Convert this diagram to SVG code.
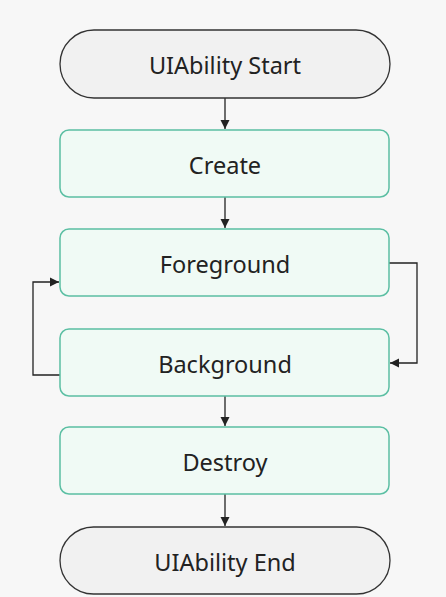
<svg xmlns="http://www.w3.org/2000/svg" width="446" height="597" viewBox="0 0 446 597">
<style>
.pill{fill:#f1f1f1;stroke:#333;stroke-width:1.3}
.box{fill:#f0faf5;stroke:#5bbfa3;stroke-width:1.5}
.t{font-family:"Noto Sans","Liberation Sans",sans-serif;font-size:23.5px;fill:#222;text-anchor:middle;dominant-baseline:central}
.c{fill:none;stroke:#222;stroke-width:1.3}
</style>
<defs>
<marker id="ah" markerWidth="10" markerHeight="10" refX="9" refY="5" orient="auto" markerUnits="userSpaceOnUse">
<path d="M0,0.5 L9,5 L0,9.5 Z" fill="#222"/>
</marker>
</defs>
<rect width="446" height="597" fill="#f7f7f7"/>
<g id="connectors">
<path class="c" d="M225,98 V129" marker-end="url(#ah)"/>
<path class="c" d="M225,197 V228" marker-end="url(#ah)"/>
<path class="c" d="M225,396 V426" marker-end="url(#ah)"/>
<path class="c" d="M225,494 V526" marker-end="url(#ah)"/>
<path class="c" d="M389,263 H417 V363 H390" marker-end="url(#ah)"/>
<path class="c" d="M60,375 H33 V282 H59" marker-end="url(#ah)"/>
</g>
<g id="start"><rect class="pill" x="60" y="30" width="330" height="68" rx="34"/><text class="t" x="225" y="65">UIAbility Start</text></g>
<g id="create"><rect class="box" x="60" y="130" width="329" height="67" rx="9"/><text class="t" x="225" y="164.5">Create</text></g>
<g id="foreground"><rect class="box" x="60" y="229" width="329" height="67" rx="9"/><text class="t" x="225" y="263.5">Foreground</text></g>
<g id="background"><rect class="box" x="60" y="329" width="329" height="67" rx="9"/><text class="t" x="225" y="363.5">Background</text></g>
<g id="destroy"><rect class="box" x="60" y="427" width="329" height="67" rx="9"/><text class="t" x="225" y="461.5">Destroy</text></g>
<g id="end"><rect class="pill" x="60" y="527" width="330" height="67" rx="33.5"/><text class="t" x="225" y="561.5">UIAbility End</text></g>
</svg>
